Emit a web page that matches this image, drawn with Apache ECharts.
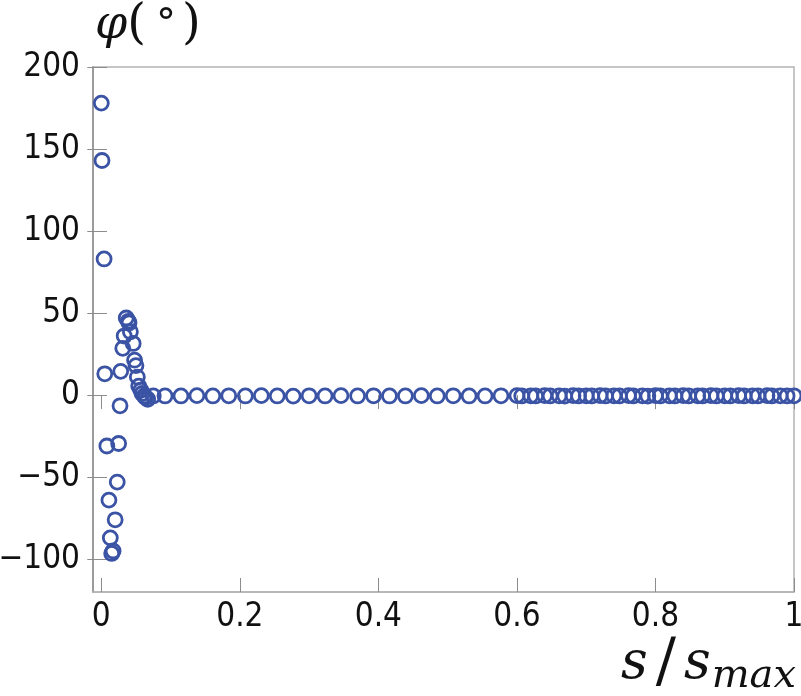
<!DOCTYPE html>
<html>
<head>
  <meta charset="utf-8">
  <title>phi vs s/smax</title>
  <script src="https://cdn.jsdelivr.net/npm/echarts@6/dist/echarts.min.js"></script>
</head>
<body style="margin:0;background:#fff">
  <div id="main" style="width:801px;height:696px;"></div>
  <script type="text/javascript">
    // s/smax positions
    var sRatio = [
      0.000, 0.001, 0.004, 0.005, 0.008, 0.011, 0.013, 0.015, 0.017, 0.020,
      0.023, 0.025, 0.027, 0.028, 0.031, 0.033, 0.036, 0.039, 0.040, 0.042,
      0.046, 0.048, 0.050, 0.052, 0.054, 0.057, 0.059, 0.062, 0.064, 0.067,
      0.075,
      0.092, 0.115, 0.138, 0.161, 0.184, 0.208, 0.231, 0.254, 0.277, 0.300,
      0.323, 0.346, 0.370, 0.393, 0.416, 0.439, 0.462, 0.485, 0.508, 0.531,
      0.554, 0.577,
      0.600, 0.607, 0.620, 0.627, 0.640, 0.648, 0.661, 0.669, 0.681, 0.689,
      0.700, 0.708, 0.720, 0.728, 0.740, 0.748, 0.761, 0.768, 0.781, 0.789,
      0.800, 0.807, 0.820, 0.828, 0.840, 0.848, 0.861, 0.868, 0.880, 0.888,
      0.900, 0.908, 0.920, 0.928, 0.940, 0.948, 0.961, 0.968, 0.980, 0.990,
      1.000
    ];
    // phi in degrees
    var phiDeg = [
      178, 143, 83, 13, -31, -64, -87, -96.5, -95, -76,
      -53, -29.5, -6.5, 14.5, 28.5, 36, 47, 45, 44, 38.6,
      31.5, 21.3, 18, 11, 5.5, 3, 1, -0.5, -1.5, -2.5,
      -0.5,
      -0.5, -0.5, -0.3, -0.5, -0.4, -0.5, -0.3, -0.5, -0.6, -0.4,
      -0.5, -0.3, -0.5, -0.4, -0.5, -0.5, -0.3, -0.5, -0.4, -0.5,
      -0.5, -0.4,
      -0.3, -0.5, -0.4, -0.5, -0.3, -0.5, -0.4, -0.6, -0.3, -0.5,
      -0.4, -0.5, -0.3, -0.5, -0.4, -0.5, -0.3, -0.5, -0.4, -0.6,
      -0.3, -0.5, -0.4, -0.5, -0.3, -0.5, -0.4, -0.5, -0.3, -0.5,
      -0.4, -0.5, -0.3, -0.5, -0.4, -0.5, -0.3, -0.5, -0.4, -0.5,
      -0.4
    ];
    var xTicks = [0, 0.2, 0.4, 0.6, 0.8, 1];
    var yTicks = [-100, -50, 0, 50, 100, 150, 200];

    var points = sRatio.map(function (s, i) { return [s, phiDeg[i]]; });

    var labelFont = "'Liberation Sans Narrow', 'DejaVu Sans Condensed', 'Liberation Sans', sans-serif";
    var tickColor = '#8c8c8c';
    var serif = "'DejaVu Serif', 'Liberation Serif', serif";

    function fmt(v) {
      var t = String(Math.abs(v));
      return v < 0 ? '\u2212' + t : t;
    }

    var myChart = echarts.init(document.getElementById('main'));

    var option = {
      animation: false,
      backgroundColor: '#fff',
      grid: {
        left: 93, top: 67, right: 7, bottom: 104,
        outerBoundsMode: 'none',
        containLabel: false,
        show: true, borderColor: '#b4b4b4', borderWidth: 1.5
      },
      xAxis: [
        {
          type: 'value', min: -0.012, max: 1,
          axisLine: { show: true, onZero: false, lineStyle: { color: '#b4b4b4', width: 1.5 } },
          axisTick: { show: true, inside: true, length: 14, customValues: xTicks, lineStyle: { color: tickColor } },
          axisLabel: {
            customValues: xTicks, margin: 9,
            fontFamily: labelFont, fontSize: 33, color: '#111',
            formatter: function (v) { return fmt(v); }
          },
          splitLine: { show: false }
        },
        {
          type: 'value', min: -0.012, max: 1, position: 'top',
          axisLine: { show: false },
          axisTick: { show: true, inside: true, length: 14, customValues: xTicks, lineStyle: { color: tickColor } },
          axisLabel: { show: false },
          splitLine: { show: false }
        }
      ],
      yAxis: [
        {
          type: 'value', min: -120, max: 200,
          axisLine: { show: true, onZero: false, lineStyle: { color: tickColor, width: 1.5 } },
          axisTick: { show: true, inside: true, length: 14, customValues: yTicks, lineStyle: { color: tickColor } },
          axisLabel: {
            customValues: yTicks, margin: 13,
            fontFamily: labelFont, fontSize: 33, color: '#111',
            formatter: function (v) { return fmt(v); }
          },
          splitLine: { show: false }
        },
        {
          type: 'value', min: -120, max: 200, position: 'right',
          axisLine: { show: false },
          axisTick: { show: true, inside: true, length: 14, customValues: yTicks, lineStyle: { color: tickColor } },
          axisLabel: { show: false },
          splitLine: { show: false }
        }
      ],
      graphic: [
        {
          type: 'text', left: 95, top: 2,
          style: {
            text: '{p|φ}{b|(}{d|°}{b|)}',
            rich: {
              p: { fontFamily: serif, fontStyle: 'italic', fontSize: 46, fill: '#111' },
              b: { fontFamily: serif, fontSize: 48, fill: '#111' },
              d: { fontFamily: serif, fontSize: 40, fill: '#111', padding: [0, 6, 0, 10] }
            }
          }
        },
        {
          type: 'text', right: 5, top: 634,
          style: {
            text: '{s|s}{sl|/}{s|s}{sub|max}',
            rich: {
              s: { fontFamily: serif, fontStyle: 'italic', fontSize: 52, fill: '#111' },
              sl: { fontFamily: serif, fontSize: 60, fill: '#111', padding: [0, 8, 0, 8] },
              sub: { fontFamily: serif, fontStyle: 'italic', fontSize: 40, fill: '#111', padding: [26, 0, 0, 1] }
            }
          }
        }
      ],
      series: [
        {
          type: 'scatter',
          data: points,
          symbol: 'circle',
          symbolSize: 14,
          itemStyle: { color: 'rgba(255,255,255,0)', opacity: 1, borderColor: '#3a53a4', borderWidth: 2.8 }
        }
      ]
    };

    myChart.setOption(option);
  </script>
</body>
</html>
